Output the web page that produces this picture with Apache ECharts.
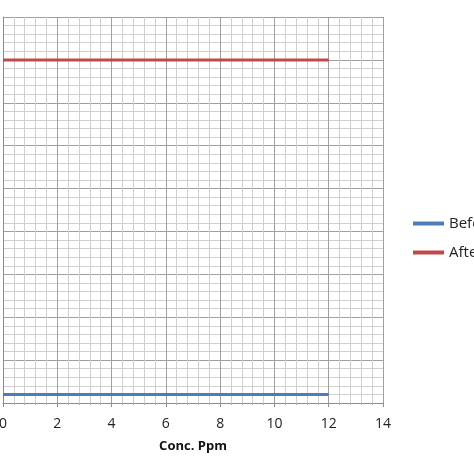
<!DOCTYPE html>
<html>
<head>
<meta charset="utf-8">
<script src="https://cdn.jsdelivr.net/npm/echarts@6/dist/echarts.min.js"></script>
<style>
  html, body { margin: 0; padding: 0; background: #fff; }
  #chart { width: 474px; height: 474px; }
</style>
</head>
<body>
<div id="chart"></div>
<script>
// data
const concPpm = [0, 2, 4, 6, 8, 10, 12];
const before = [0.2, 0.2, 0.2, 0.2, 0.2, 0.2, 0.2];
const after = [8, 8, 8, 8, 8, 8, 8];
const xTicks = [0, 2, 4, 6, 8, 10, 12, 14];

const pairs = (xs, ys) => xs.map((x, i) => [x, ys[i]]);

const chart = echarts.init(document.getElementById('chart'));
chart.setOption({
  animation: false,
  textStyle: { fontFamily: 'Open Sans, Liberation Sans, sans-serif' },
  grid: { left: 3, right: 91, top: 17, bottom: 71, outerBoundsMode: 'none', containLabel: false },
  legend: {
    orient: 'vertical',
    left: 408,
    top: 211,
    padding: 5,
    itemGap: 14,
    itemWidth: 31,
    itemHeight: 4,
    icon: 'rect',
    textStyle: { fontSize: 15, color: '#222' },
    data: ['Before', 'After']
  },
  xAxis: {
    type: 'value',
    min: xTicks[0],
    max: xTicks[xTicks.length - 1],
    interval: 2,
    name: 'Conc. Ppm',
    nameLocation: 'middle',
    nameGap: 37,
    nameTextStyle: { fontSize: 13, fontWeight: 'bold', color: '#111' },
    axisLine: { onZero: false, lineStyle: { color: '#8c8c8c', width: 1 } },
    axisTick: { show: true, length: 4, lineStyle: { color: '#8c8c8c' } },
    axisLabel: { fontSize: 14, color: '#222', margin: 14 },
    splitLine: { lineStyle: { color: '#a0a0a0', width: 1 } },
    minorTick: { show: true, splitNumber: 5, length: 2, lineStyle: { color: '#b0b0b0' } },
    minorSplitLine: { show: true, lineStyle: { color: '#cfcfcf', width: 1 } }
  },
  yAxis: {
    type: 'value',
    min: 0,
    max: 9,
    interval: 1,
    axisLine: { show: true, lineStyle: { color: '#8c8c8c', width: 1 } },
    axisTick: { show: false },
    axisLabel: { show: false },
    splitLine: { lineStyle: { color: '#a0a0a0', width: 1 } },
    minorTick: { show: false, splitNumber: 5 },
    minorSplitLine: { show: true, lineStyle: { color: '#cfcfcf', width: 1 } }
  },
  series: [
    {
      name: 'Before',
      type: 'line',
      data: pairs(concPpm, before),
      showSymbol: false,
      lineStyle: { color: '#4a7ebb', width: 3 },
      itemStyle: { color: '#4a7ebb' }
    },
    {
      name: 'After',
      type: 'line',
      data: pairs(concPpm, after),
      showSymbol: false,
      lineStyle: { color: '#be4b48', width: 3 },
      itemStyle: { color: '#be4b48' }
    }
  ]
});
</script>
</body>
</html>
